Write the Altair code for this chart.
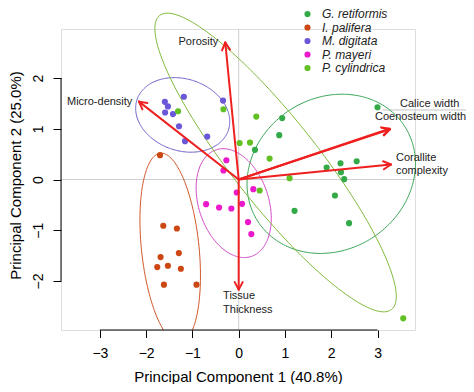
import altair as alt
import numpy as np
import pandas as pd

# ---------------- data ----------------
species = ["G. retiformis", "I. palifera", "M. digitata", "P. mayeri", "P. cylindrica"]
point_colors = ["#33aa48", "#cc4712", "#6a58d8", "#ec18cc", "#62c025"]
ellipse_colors = ["#3aa656", "#cf5426", "#6d62c6", "#d246c4", "#80b83a"]

gret_x = [3.00, 1.90, 2.20, 2.55, 2.21, 2.28, 2.08, 2.385, 1.207, 0.94, 0.876, 0.352]
gret_y = [1.424, 0.236, 0.32, 0.36, 0.144, 0.007, -0.315, -0.86, -0.617, 1.21, 0.873, 0.584]
ipal_x = [-1.70, -1.63, -1.336, -1.688, -1.293, -1.76, -1.53, -1.25, -1.616, -0.912]
ipal_y = [0.479, -0.912, -0.965, -1.529, -1.45, -1.726, -1.70, -1.759, -2.073, -2.073]
mdig_x = [-1.595, -1.185, -0.338, -1.53, -1.59, -1.42, -1.29, -1.16, -0.68]
mdig_y = [1.53, 1.63, 1.555, 1.44, 1.32, 1.29, 1.05, 0.755, 0.845]
pmay_x = [-0.266, -0.33, -0.043, 0.316, 0.072, -0.704, -0.424, -0.158, 0.201, 0.273]
pmay_y = [0.38, 0.177, -0.256, -0.19, -0.479, -0.486, -0.551, -0.571, -0.84, -1.076]
pcyl_x = [-1.31, -0.33, 0.38, 0.02, 0.244, 0.668, 1.10, 0.453, 3.556]
pcyl_y = [1.345, 1.385, 1.24, 0.72, 0.728, 0.413, 0.026, -0.217, -2.736]

# ellipse parameters (centre, half-width, y-offset of rightmost point, vertical half-extent)
ell_cx = [2.0, -1.48, -1.21, -0.108, 0.797]
ell_cy = [0.112, -1.348, 1.273, -0.466, 0.335]
ell_a = [1.82, 0.654, 1.017, 0.812, 2.608]
ell_dyr = [0.2, -0.55, -0.13, -0.3, -2.638]
ell_T = [1.569, 1.867, 0.735, 1.073, 2.943]

# loadings (arrow tips)
var_names = ["Porosity", "Micro-density", "Calice width", "Coenosteum width",
             "Corallite complexity", "Tissue Thickness"]
load_x = [-0.29, -2.155, 3.27, 3.26, 3.29, 0.0]
load_y = [2.70, 1.535, 0.99, 1.0, 0.295, -2.17]

x_ticks = [-3, -2, -1, 0, 1, 2, 3]
y_ticks = [-2, -1, 0, 1, 2]

# ---------------- layout ----------------
W, H = 354, 301
XDOM = [-3.84, 3.81]
YDOM = [-2.966, 2.966]
xs = alt.Scale(domain=XDOM, nice=False, zero=False)
ys = alt.Scale(domain=YDOM, nice=False, zero=False)
sx = W / (XDOM[1] - XDOM[0])
sy = H / (YDOM[1] - YDOM[0])

# points table
pts = []
for sp, xx, yy in zip(species, [gret_x, ipal_x, mdig_x, pmay_x, pcyl_x],
                      [gret_y, ipal_y, mdig_y, pmay_y, pcyl_y]):
    for a, b in zip(xx, yy):
        pts.append({"species": sp, "x": a, "y": b})
pts = pd.DataFrame(pts)

# ellipse paths (one layer each, so the colour legend stays with the points)
t = np.linspace(0, 2 * np.pi, 241)
ellipse_layers = []
for sp, col, cx, cy, a, d, T in zip(species, ellipse_colors, ell_cx, ell_cy, ell_a, ell_dyr, ell_T):
    h = np.sqrt(T ** 2 - d ** 2)
    df = pd.DataFrame({"i": np.arange(len(t)),
                       "x": cx + a * np.cos(t),
                       "y": cy + d * np.cos(t) + h * np.sin(t)})
    ellipse_layers.append(
        alt.Chart(df).mark_line(stroke=col, strokeWidth=1, clip=(sp == "I. palifera")).encode(
            x=alt.X("x:Q", scale=xs), y=alt.Y("y:Q", scale=ys), order="i:Q"))

# arrow segments (shaft + open head)
seg = []
L, ang = 8.5, np.radians(28)
for tx, ty in zip(load_x, load_y):
    seg.append({"x": 0.0, "y": 0.0, "x2": tx, "y2": ty})
    px, py = tx * sx, ty * sy
    n = np.hypot(px, py)
    ux, uy = px / n, py / n
    for s in (1, -1):
        c, si = np.cos(s * ang), np.sin(s * ang)
        rx, ry = ux * c - uy * si, ux * si + uy * c
        wx, wy = px - L * rx, py - L * ry
        seg.append({"x": tx, "y": ty, "x2": wx / sx, "y2": wy / sy})
seg = pd.DataFrame(seg)

# ---------------- layers ----------------
zero_v = alt.Chart(pd.DataFrame({"x": [0]})).mark_rule(color="#cfcfcf", strokeWidth=1).encode(
    x=alt.X("x:Q", scale=xs))
zero_h = alt.Chart(pd.DataFrame({"y": [0]})).mark_rule(color="#cfcfcf", strokeWidth=1).encode(
    y=alt.Y("y:Q", scale=ys))
side_line = alt.Chart(pd.DataFrame({"x": [3.11], "x2": [5.2], "y": [1.37]})).mark_rule(
    color="#c4c4c4", strokeWidth=1).encode(
    x=alt.X("x:Q", scale=xs), x2="x2:Q", y=alt.Y("y:Q", scale=ys))

points = alt.Chart(pts).mark_circle(size=38, opacity=1).encode(
    x=alt.X("x:Q", scale=xs, axis=alt.Axis(
        values=x_ticks, domain=False, grid=False, tickSize=7.5, tickColor="black",
        labelFontSize=14, labelColor="black", labelPadding=9,
        title="Principal Component 1 (40.8%)", titleFontSize=15, titleFontWeight="normal",
        titleColor="black", titleY=51, titleBaseline="alphabetic")),
    y=alt.Y("y:Q", scale=ys, axis=alt.Axis(
        values=y_ticks, domain=False, grid=False, tickSize=8, tickColor="black",
        labelFontSize=14, labelColor="black", labelAngle=270, labelAlign="center",
        labelBaseline="middle", labelPadding=15,
        title="Principal Component 2 (25.0%)", titleFontSize=15, titleFontWeight="normal",
        titleColor="black", titleAngle=270, titleX=-52.5, titleY=146,
        titleAlign="center", titleBaseline="top")),
    color=alt.Color("species:N", scale=alt.Scale(domain=species, range=point_colors),
                    legend=alt.Legend(title=None, orient="none", legendX=240.5, legendY=-21,
                                      labelFontStyle="italic", labelFontSize=12,
                                      labelColor="#222222", symbolType="circle",
                                      symbolSize=38, symbolStrokeWidth=0, labelOffset=8.5,
                                      rowPadding=1.5, padding=0, symbolOpacity=1)))

arrows = alt.Chart(seg).mark_rule(color="#ee2020", strokeWidth=2, strokeCap="round").encode(
    x=alt.X("x:Q", scale=xs), y=alt.Y("y:Q", scale=ys), x2="x2:Q", y2="y2:Q")


def label(text, idx, dx, dy, align):
    df = pd.DataFrame({"x": [load_x[idx]], "y": [load_y[idx]], "t": [text]})
    return alt.Chart(df).mark_text(align=align, baseline="middle", dx=dx, dy=dy,
                                   fontSize=11, color="#222222").encode(
        x=alt.X("x:Q", scale=xs), y=alt.Y("y:Q", scale=ys), text="t:N")


labels = [
    label("Porosity", 0, -7, 0, "right"),
    label("Micro-density", 1, -6.6, 0, "right"),
    label("Calice width", 2, 10, -25, "left"),
    label("Coenosteum width", 2, -15, -12, "left"),
    label("Corallite", 4, 5, -6.7, "left"),
    label("complexity", 4, 5, 6.6, "left"),
    label("Tissue", 5, -15.6, 6.7, "left"),
    label("Thickness", 5, -15.6, 20, "left"),
]

yaxis_line = alt.Chart(pd.DataFrame({"y": [y_ticks[0]], "y2": [y_ticks[-1]]})).mark_rule(
    color="black", strokeWidth=1).encode(
    x=alt.value(0), y=alt.Y("y:Q", scale=ys), y2="y2:Q")
xaxis_line = alt.Chart(pd.DataFrame({"x": [x_ticks[0]], "x2": [x_ticks[-1]]})).mark_rule(
    color="black", strokeWidth=1).encode(
    y=alt.value(H), x=alt.X("x:Q", scale=xs), x2="x2:Q")

chart = alt.layer(
    zero_v, zero_h, side_line, *ellipse_layers, points, arrows, *labels, yaxis_line, xaxis_line
).properties(
    width=W, height=H,
    padding={"left": 53, "top": 21, "right": 51, "bottom": 54},
    autosize=alt.AutoSizeParams(type="none"),
).configure_view(stroke=None).configure(font="Liberation Sans")

chart.save("out.html", embed_options={"renderer": "svg", "actions": False})
